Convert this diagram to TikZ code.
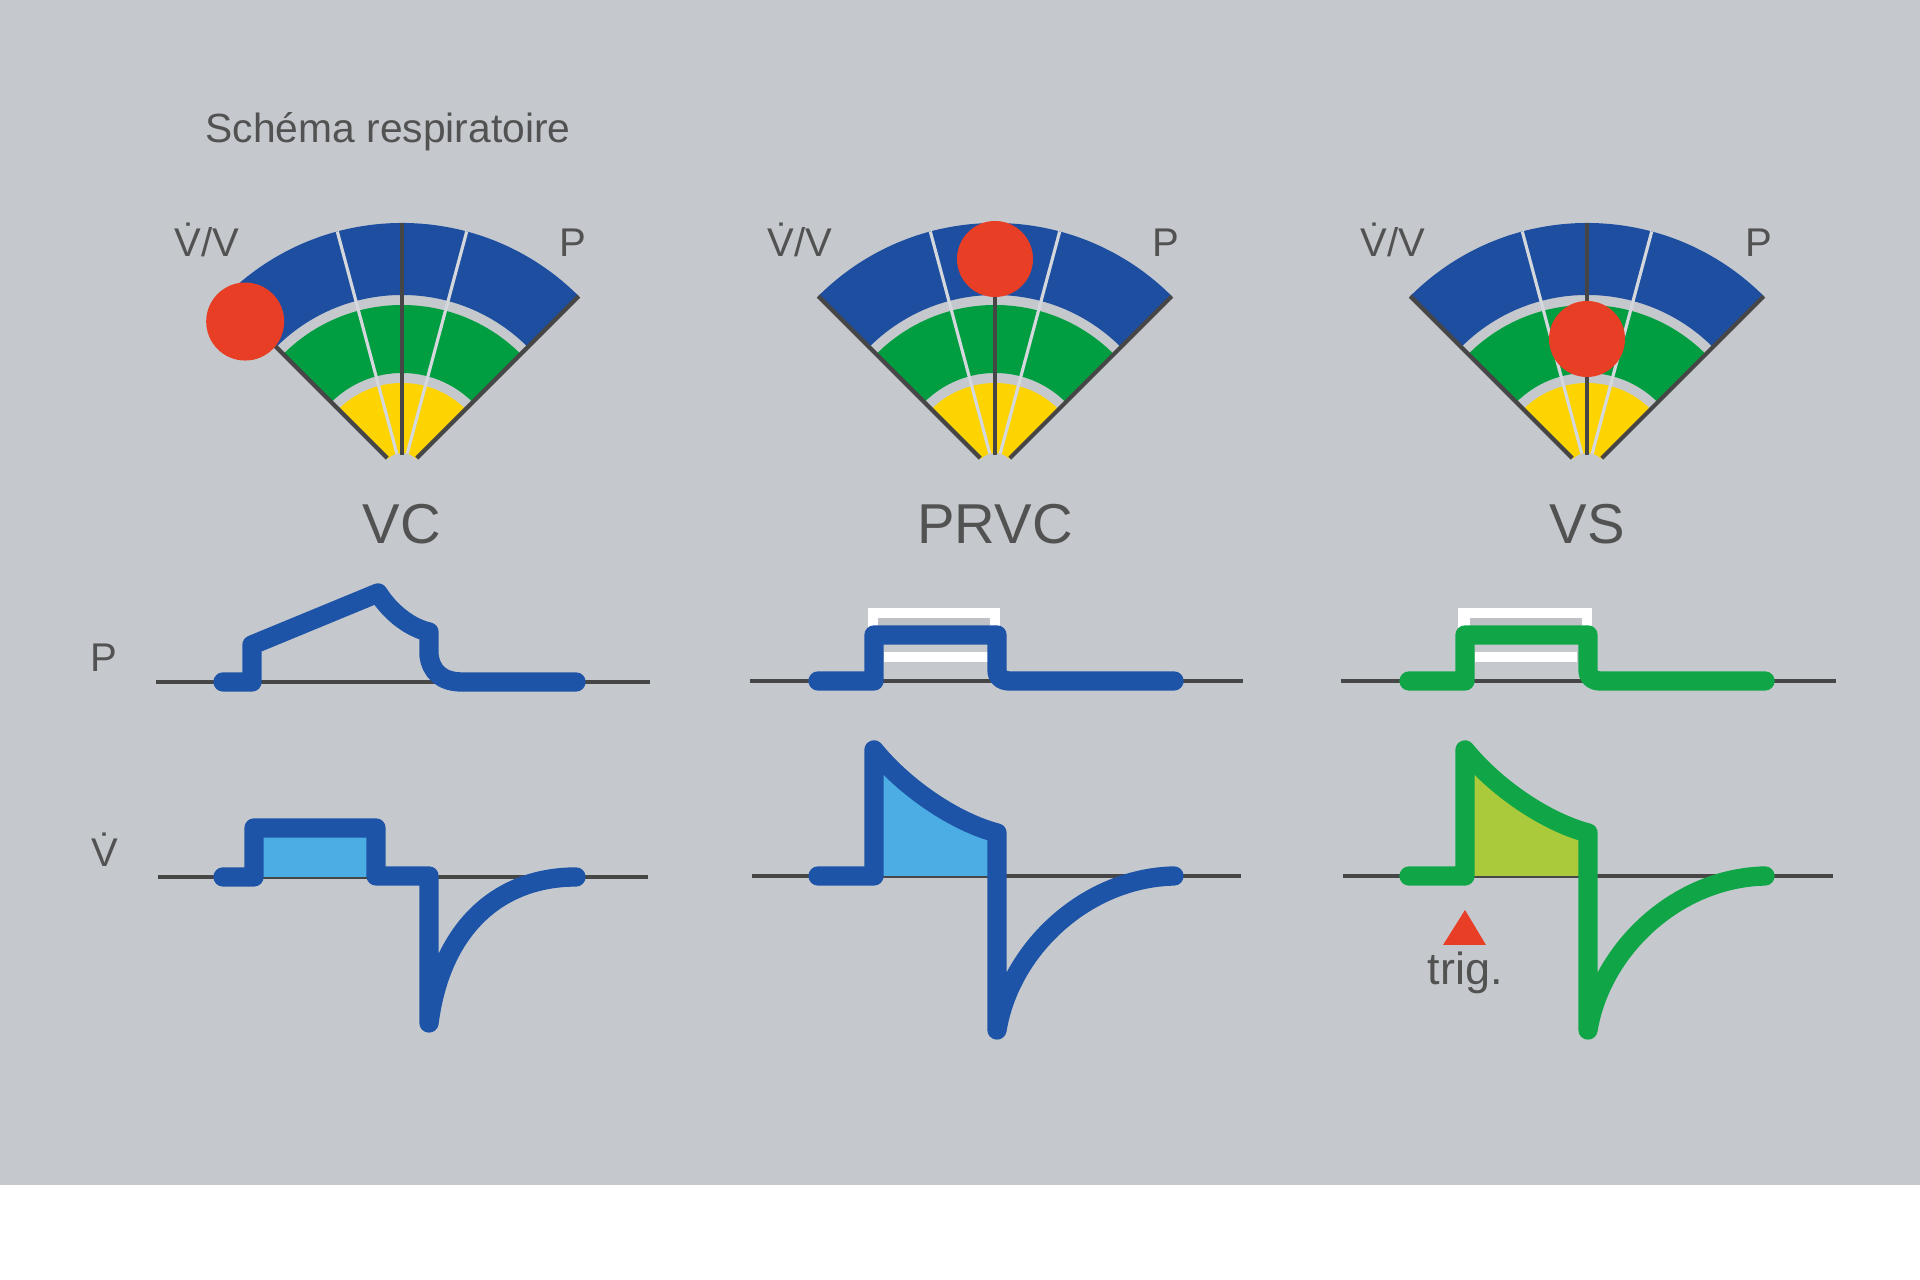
\documentclass[tikz,border=0pt]{standalone}
\usepackage{fontspec}
\setmainfont{Liberation Sans}
\usepackage{tikz,xcolor}
\usetikzlibrary{calc}

\definecolor{bggray}{RGB}{197,201,205}
\definecolor{fanblue}{RGB}{30,78,160}
\definecolor{fangreen}{RGB}{0,158,64}
\definecolor{fanyellow}{RGB}{253,212,0}
\definecolor{dotred}{RGB}{232,62,38}
\definecolor{waveblue}{RGB}{30,84,168}
\definecolor{wavegreen}{RGB}{16,166,72}
\definecolor{lightblue}{RGB}{76,172,228}
\definecolor{limegreen}{RGB}{170,202,60}
\definecolor{axisgray}{RGB}{70,70,70}
\definecolor{textgray}{RGB}{82,82,82}
\definecolor{lidgray}{RGB}{189,193,198}
\definecolor{divgray}{RGB}{212,216,220}

% one coloured band of a fan: centre, inner radius, outer radius, colour
\newcommand{\band}[4]{\fill[#4, shift={(#1)}] (45:#3) arc[start angle=45, end angle=135, radius=#3] -- (135:#2) arc[start angle=135, end angle=45, radius=#2] -- cycle;}
% the three bands, dividers and edges of a fan
\newcommand{\fan}[1]{%
  \band{#1}{1.78}{2.50}{fanblue}
  \band{#1}{1.00}{1.68}{fangreen}
  \band{#1}{0.20}{0.90}{fanyellow}
  \draw[divgray, line width=0.9pt, shift={(#1)}] (75:0.2) -- (75:2.5) (105:0.2) -- (105:2.5);
  \draw[axisgray, line width=1.2pt, shift={(#1)}] (45:0.21) -- (45:2.5) (135:0.21) -- (135:2.5);}

\begin{document}
\begin{tikzpicture}[
    lbl/.style={text=textgray, font=\fontsize{11.4pt}{13pt}\selectfont, anchor=base, inner sep=0pt},
    mode/.style={text=textgray, font=\fontsize{16pt}{18pt}\selectfont, anchor=base, inner sep=0pt},
    needle/.style={axisgray, line width=0.9pt},
    axis/.style={axisgray, line width=1pt},
    wave/.style={line width=5.5pt, line cap=round, line join=round}
  ]
    \useasboundingbox (0,0) rectangle (19.2,12.8);
    \fill[white] (0,0) rectangle (19.2,12.8);
    \fill[bggray] (0,0.95) rectangle (19.2,12.8);

    \node[text=textgray, font=\fontsize{11.6pt}{13pt}\selectfont, anchor=base west, inner sep=0pt] (title) at (2.05, 11.37) {Schéma respiratoire};

    \coordinate (f1) at (4.02, 8.07);
    \coordinate (f2) at (9.95, 8.07);
    \coordinate (f3) at (15.87, 8.07);

    % fans
    \fan{f1}
    \draw[needle] ($(f1)+(90:0.18)$) -- ($(f1)+(90:2.5)$);
    \fill[dotred, shift={(f1)}] (136:2.18) circle (0.39);
    \fan{f2}
    \draw[needle] ($(f2)+(90:0.18)$) -- ($(f2)+(90:2.14)$);
    \fill[dotred, shift={(f2)}] (90:2.14) circle (0.38);
    \fan{f3}
    \draw[needle] ($(f3)+(90:0.18)$) -- ($(f3)+(90:2.5)$);
    \fill[dotred, shift={(f3)}] (90:1.34) circle (0.38);

    \node[lbl] (vv1) at (2.07, 10.23) {\.{V}/V};
    \node[lbl] (pp1) at (5.73, 10.23) {P};
    \node[lbl] (vv2) at (8.00, 10.23) {\.{V}/V};
    \node[lbl] (pp2) at (11.66, 10.23) {P};
    \node[lbl] (vv3) at (13.93, 10.23) {\.{V}/V};
    \node[lbl] (pp3) at (17.59, 10.23) {P};

    \node[mode] (vc) at (4.02, 7.36) {VC};
    \node[mode] (prvc) at (9.95, 7.36) {PRVC};
    \node[mode] (vs) at (15.87, 7.36) {VS};

    \node[lbl] (p) at (1.04, 6.08) {P};
    \node[lbl] (v) at (1.05, 4.13) {\.{V}};

    % VC
    \draw[axis] (1.56,5.98) -- (6.50,5.98);
    \draw[axis] (1.58,4.03) -- (6.48,4.03);
    \fill[lightblue] (2.54,4.03) rectangle (3.76,4.52);
    \draw[wave, waveblue] (2.23,5.98) -- (2.52,5.98) -- (2.52,6.35) -- (3.78,6.87) .. controls (3.90,6.68) and (4.10,6.52) .. (4.29,6.48) -- (4.29,6.25) .. controls (4.31,6.08) and (4.42,5.98) .. (4.62,5.98) -- (5.76,5.98);
    \draw[wave, waveblue] (2.23,4.03) -- (2.54,4.03) -- (2.54,4.52) -- (3.76,4.52) -- (3.76,4.04) -- (4.29,4.04) -- (4.29,2.57) .. controls (4.41,3.50) and (4.97,4.03) .. (5.76,4.03);

    % PRVC
    \draw[axis] (7.50,5.99) -- (12.43,5.99);
    \draw[axis] (7.52,4.04) -- (12.41,4.04);
    \fill[white] (8.68,6.50) rectangle (10.00,6.72);
    \fill[lidgray] (8.78,6.50) rectangle (9.90,6.62);
    \fill[white] (8.84,6.18) rectangle (9.88,6.28);
    \fill[lightblue] (8.74,4.04) -- (8.74,5.30) .. controls (9.05,4.92) and (9.55,4.58) .. (9.97,4.47) -- (9.97,4.04) -- cycle;
    \draw[wave, waveblue] (8.18,5.99) -- (8.74,5.99) -- (8.74,6.45) -- (9.97,6.45) -- (9.97,6.10) .. controls (9.97,6.02) and (10.02,5.99) .. (10.10,5.99) -- (11.74,5.99);
    \draw[wave, waveblue] (8.18,4.04) -- (8.74,4.04) -- (8.74,5.30) .. controls (9.05,4.92) and (9.55,4.58) .. (9.97,4.47) -- (9.97,2.50) .. controls (10.10,3.30) and (10.85,4.02) .. (11.74,4.04);

    % VS
    \draw[axis] (13.41,5.99) -- (18.36,5.99);
    \draw[axis] (13.43,4.04) -- (18.33,4.04);
    \fill[white] (14.58,6.50) rectangle (15.92,6.72);
    \fill[lidgray] (14.70,6.50) rectangle (15.82,6.62);
    \fill[white] (14.75,6.18) rectangle (15.77,6.28);
    \fill[limegreen] (14.65,4.04) -- (14.65,5.30) .. controls (14.96,4.92) and (15.46,4.58) .. (15.88,4.47) -- (15.88,4.04) -- cycle;
    \draw[wave, wavegreen] (14.09,5.99) -- (14.65,5.99) -- (14.65,6.45) -- (15.88,6.45) -- (15.88,6.10) .. controls (15.88,6.02) and (15.93,5.99) .. (16.01,5.99) -- (17.65,5.99);
    \draw[wave, wavegreen] (14.09,4.04) -- (14.65,4.04) -- (14.65,5.30) .. controls (14.96,4.92) and (15.46,4.58) .. (15.88,4.47) -- (15.88,2.50) .. controls (16.01,3.30) and (16.76,4.02) .. (17.65,4.04);
    \fill[dotred] (14.43,3.35) -- (14.86,3.35) -- (14.65,3.70) -- cycle;
    \node[text=textgray, font=\fontsize{12.8pt}{14pt}\selectfont, anchor=base, inner sep=0pt] (trig) at (14.65, 2.95) {trig.};
\end{tikzpicture}
\end{document}
